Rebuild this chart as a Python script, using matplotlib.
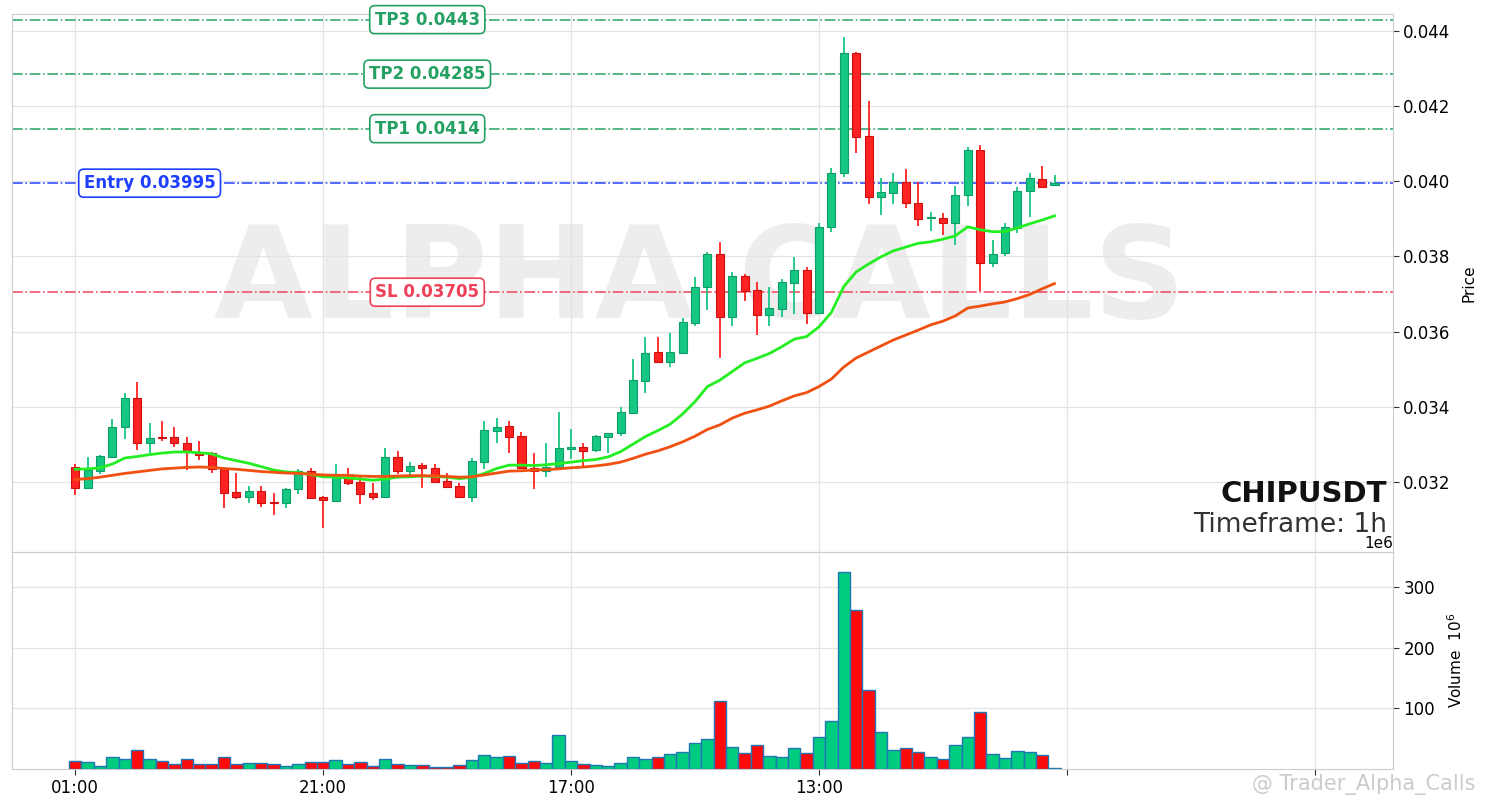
import numpy as np
import matplotlib.pyplot as plt
from matplotlib.ticker import FixedLocator, FixedFormatter, ScalarFormatter

# velas de 1h, CHIPUSDT
opens = [0.03241, 0.03183, 0.03230, 0.03267, 0.03346, 0.03423, 0.03303, 0.03319, 0.03319, 0.03303,
         0.03276, 0.03276, 0.03234, 0.03173, 0.03161, 0.03176, 0.03146, 0.03143, 0.03181, 0.03229,
         0.03160, 0.03150, 0.03210, 0.03199, 0.03170, 0.03161, 0.03266, 0.03230, 0.03245, 0.03237,
         0.03203, 0.03189, 0.03159, 0.03254, 0.03337, 0.03349, 0.03322, 0.03238, 0.03230, 0.03241,
         0.03288, 0.03292, 0.03285, 0.03321, 0.03330, 0.03384, 0.03470, 0.03545, 0.03520, 0.03544,
         0.03624, 0.03720, 0.03807, 0.03640, 0.03748, 0.03711, 0.03644, 0.03660, 0.03729, 0.03764,
         0.03649, 0.03878, 0.04021, 0.04342, 0.04121, 0.03958, 0.03970, 0.03999, 0.03942, 0.03902,
         0.03902, 0.03888, 0.03964, 0.04084, 0.03782, 0.03809, 0.03875, 0.03973, 0.04006, 0.03989]
highs = [0.03247, 0.03267, 0.03272, 0.03367, 0.03436, 0.03465, 0.03356, 0.03363, 0.03347, 0.03321,
         0.03310, 0.03281, 0.03236, 0.03225, 0.03190, 0.03190, 0.03170, 0.03183, 0.03234, 0.03237,
         0.03163, 0.03247, 0.03237, 0.03213, 0.03197, 0.03290, 0.03283, 0.03254, 0.03252, 0.03247,
         0.03223, 0.03197, 0.03263, 0.03363, 0.03370, 0.03363, 0.03332, 0.03276, 0.03303, 0.03387,
         0.03340, 0.03305, 0.03325, 0.03331, 0.03400, 0.03527, 0.03585, 0.03585, 0.03597, 0.03636,
         0.03746, 0.03813, 0.03838, 0.03758, 0.03754, 0.03733, 0.03720, 0.03739, 0.03798, 0.03773,
         0.03888, 0.04035, 0.04385, 0.04345, 0.04214, 0.04010, 0.04023, 0.04032, 0.03999, 0.03917,
         0.03915, 0.03988, 0.04092, 0.04097, 0.03844, 0.03888, 0.03986, 0.04023, 0.04042, 0.04017]
lows = [0.03165, 0.03181, 0.03221, 0.03263, 0.03314, 0.03285, 0.03278, 0.03309, 0.03292, 0.03232,
        0.03259, 0.03223, 0.03132, 0.03154, 0.03143, 0.03134, 0.03112, 0.03130, 0.03168, 0.03158,
        0.03077, 0.03146, 0.03192, 0.03141, 0.03152, 0.03160, 0.03221, 0.03213, 0.03183, 0.03198,
        0.03186, 0.03157, 0.03146, 0.03235, 0.03303, 0.03276, 0.03237, 0.03181, 0.03213, 0.03240,
        0.03260, 0.03239, 0.03281, 0.03278, 0.03322, 0.03381, 0.03438, 0.03520, 0.03507, 0.03543,
        0.03615, 0.03658, 0.03531, 0.03615, 0.03682, 0.03591, 0.03615, 0.03640, 0.03647, 0.03620,
        0.03648, 0.03866, 0.04012, 0.04075, 0.03940, 0.03911, 0.03940, 0.03928, 0.03881, 0.03869,
        0.03857, 0.03831, 0.03934, 0.03709, 0.03771, 0.03801, 0.03862, 0.03906, 0.03982, 0.03988]
closes = [0.03183, 0.03232, 0.03269, 0.03346, 0.03423, 0.03303, 0.03316, 0.03317, 0.03303, 0.03281,
          0.03272, 0.03234, 0.03172, 0.03161, 0.03176, 0.03145, 0.03144, 0.03181, 0.03230, 0.03158,
          0.03152, 0.03213, 0.03197, 0.03167, 0.03161, 0.03266, 0.03230, 0.03243, 0.03237, 0.03201,
          0.03188, 0.03159, 0.03256, 0.03338, 0.03346, 0.03321, 0.03238, 0.03230, 0.03241, 0.03290,
          0.03292, 0.03283, 0.03322, 0.03330, 0.03387, 0.03471, 0.03543, 0.03520, 0.03545, 0.03625,
          0.03718, 0.03807, 0.03640, 0.03748, 0.03709, 0.03644, 0.03662, 0.03731, 0.03764, 0.03649,
          0.03878, 0.04021, 0.04342, 0.04119, 0.03958, 0.03972, 0.03999, 0.03942, 0.03899, 0.03903,
          0.03888, 0.03964, 0.04084, 0.03782, 0.03806, 0.03878, 0.03973, 0.04008, 0.03986, 0.03995]

# volumen en millones
volume_m = [13.2, 11.5, 4.9, 19.8, 16.5, 31.3, 16.5, 13.2, 8.2, 16.5,
            8.2, 8.2, 19.8, 8.2, 9.9, 9.9, 8.2, 4.9, 8.2, 11.5,
            11.5, 14.8, 8.2, 11.5, 4.9, 16.5, 8.2, 6.6, 6.6, 3.3,
            3.3, 6.6, 14.8, 23.1, 19.8, 21.4, 9.9, 13.2, 9.9, 56.0,
            13.2, 8.2, 6.6, 4.9, 9.9, 19.8, 16.5, 19.8, 24.7, 28.0,
            42.9, 49.5, 112.1, 36.3, 26.4, 39.6, 21.4, 19.8, 34.6, 26.4,
            52.7, 79.1, 324.7, 262.1, 130.2, 61.0, 31.3, 34.6, 28.0, 19.8,
            16.5, 39.6, 52.7, 94.0, 24.7, 18.1, 29.7, 28.0, 23.1, 1.6]

# medias moviles
ma_fast = [0.03234, 0.03235, 0.03238, 0.03248, 0.03264, 0.03268, 0.03273, 0.03277, 0.03280, 0.03280,
           0.03278, 0.03275, 0.03264, 0.03257, 0.03250, 0.03241, 0.03232, 0.03227, 0.03225, 0.03220,
           0.03214, 0.03213, 0.03211, 0.03208, 0.03205, 0.03208, 0.03213, 0.03214, 0.03216, 0.03215,
           0.03213, 0.03209, 0.03213, 0.03223, 0.03236, 0.03245, 0.03245, 0.03244, 0.03246, 0.03249,
           0.03253, 0.03257, 0.03260, 0.03267, 0.03281, 0.03301, 0.03321, 0.03337, 0.03354, 0.03381,
           0.03414, 0.03454, 0.03471, 0.03494, 0.03517, 0.03529, 0.03542, 0.03560, 0.03580, 0.03587,
           0.03613, 0.03651, 0.03720, 0.03759, 0.03780, 0.03799, 0.03815, 0.03825, 0.03835, 0.03839,
           0.03846, 0.03855, 0.03879, 0.03871, 0.03866, 0.03866, 0.03876, 0.03887, 0.03897, 0.03908]
ma_slow = [0.03207, 0.03209, 0.03213, 0.03218, 0.03223, 0.03227, 0.03231, 0.03235, 0.03237, 0.03239,
           0.03240, 0.03239, 0.03236, 0.03234, 0.03231, 0.03228, 0.03226, 0.03224, 0.03223, 0.03221,
           0.03219, 0.03218, 0.03218, 0.03216, 0.03215, 0.03215, 0.03216, 0.03217, 0.03217, 0.03216,
           0.03215, 0.03213, 0.03214, 0.03219, 0.03224, 0.03229, 0.03230, 0.03232, 0.03233, 0.03235,
           0.03238, 0.03240, 0.03243, 0.03247, 0.03253, 0.03263, 0.03274, 0.03283, 0.03294, 0.03307,
           0.03322, 0.03340, 0.03352, 0.03370, 0.03383, 0.03392, 0.03402, 0.03416, 0.03429, 0.03438,
           0.03454, 0.03474, 0.03506, 0.03530, 0.03546, 0.03562, 0.03578, 0.03591, 0.03604, 0.03618,
           0.03628, 0.03642, 0.03663, 0.03668, 0.03674, 0.03679, 0.03688, 0.03699, 0.03714, 0.03728]

tick_pos = [0, 20, 40, 60, 80, 100]
tick_labels = ['01:00', '21:00', '17:00', '13:00', '', '']
price_ticks = [0.032, 0.034, 0.036, 0.038, 0.040, 0.042, 0.044]
vol_ticks = [100e6, 200e6, 300e6]

level_names = ['TP3', 'TP2', 'TP1', 'Entry', 'SL']
level_values = [0.0443, 0.04285, 0.0414, 0.03995, 0.03705]
level_colors = ['#23a062', '#23a062', '#23a062', '#1f3fff', '#ee4058']
level_label_x = [28.4, 28.4, 28.4, 6.0, 28.4]

symbol = 'CHIPUSDT'
timeframe = '1h'

o = np.array(opens)
h = np.array(highs)
l = np.array(lows)
c = np.array(closes)
v = np.array(volume_m) * 1e6
x = np.arange(len(o))
up = c >= o

green = '#16c784'
green_edge = '#0e9e66'
red = '#ff2222'
red_edge = '#cc1010'
grid_c = '#e3e3e3'
spine_c = '#cccccc'

fig = plt.figure(figsize=(14.9, 8.09), dpi=100)
ax = fig.add_axes([0.00805, 0.3177, 0.9268, 0.6650])
axv = fig.add_axes([0.00805, 0.0494, 0.9268, 0.2683], sharex=ax)

for a in (ax, axv):
    a.set_facecolor('white')
    a.grid(True, color=grid_c, linewidth=0.9)
    a.set_axisbelow(True)
    for s in a.spines.values():
        s.set_color(spine_c)
    a.yaxis.tick_right()
    a.yaxis.set_label_position('right')
    a.tick_params(axis='y', labelsize=12, length=4, color='#333333')
    a.tick_params(axis='x', labelsize=12, length=4, color='#333333')

# marca de agua
ax.text(0.498, 0.50, 'ALPHA CALLS', transform=ax.transAxes, ha='center', va='center',
        fontsize=92, fontweight='bold', color='#000000', alpha=0.07, zorder=0)

# mechas y cuerpos
wick_colors = np.where(up, green, red)
ax.vlines(x, l, h, colors=wick_colors, linewidth=1.3, zorder=2)
body_bottom = np.minimum(o, c)
body_height = np.maximum(np.abs(c - o), 0.00002)
ax.bar(x[up], body_height[up], bottom=body_bottom[up], width=0.65,
       color=green, edgecolor=green_edge, linewidth=0.8, zorder=3)
ax.bar(x[~up], body_height[~up], bottom=body_bottom[~up], width=0.65,
       color=red, edgecolor=red_edge, linewidth=0.8, zorder=3)

ax.plot(x, ma_fast, color='#22ee22', linewidth=2.0, zorder=4)
ax.plot(x, ma_slow, color='#f05010', linewidth=2.0, zorder=4)

# niveles
for name, val, col, lx in zip(level_names, level_values, level_colors, level_label_x):
    ax.axhline(val, color=col, linestyle='-.', linewidth=1.2, alpha=0.9, zorder=1)
    ax.text(lx, val, f'{name} {val:g}', ha='center', va='center', fontsize=12,
            fontweight='bold', color=col, zorder=6,
            bbox=dict(boxstyle='round,pad=0.3', facecolor='white', edgecolor=col, linewidth=1.2))

ax.set_xlim(-5.1, 106.3)
ax.set_ylim(0.03014, 0.04445)
ax.yaxis.set_major_locator(FixedLocator(price_ticks))
ax.set_yticklabels([f'{t:.3f}' for t in price_ticks])
ax.set_ylabel('Price', fontsize=11, labelpad=8)
ax.tick_params(axis='x', labelbottom=False, length=0)

ax.text(0.9957, 0.108, symbol, transform=ax.transAxes, ha='right', va='center',
        fontsize=21, fontweight='bold', color='#111111')
ax.text(0.9957, 0.05, f'Timeframe: {timeframe}', transform=ax.transAxes, ha='right',
        va='center', fontsize=19, color='#333333')

# volumen
vol_colors = np.where(up, '#00cc80', '#ff0a0a')
axv.bar(x, v, width=1.0, color=vol_colors, edgecolor='#1f77b4', linewidth=1.0, zorder=3)
axv.set_ylim(0, 358e6)
axv.yaxis.set_major_locator(FixedLocator(vol_ticks))
fmt = ScalarFormatter(useOffset=False)
fmt.set_powerlimits((6, 6))
axv.yaxis.set_major_formatter(fmt)
axv.set_ylabel('Volume  $10^{6}$', fontsize=11, labelpad=8)
axv.yaxis.get_offset_text().set_fontsize(11)
axv.xaxis.set_major_locator(FixedLocator(tick_pos))
axv.xaxis.set_major_formatter(FixedFormatter(tick_labels))

fig.text(0.915, 0.03, '@ Trader_Alpha_Calls', ha='center', va='center', fontsize=15,
         color='#999999', alpha=0.5)

fig.savefig('out.png', dpi=100, facecolor='white')
